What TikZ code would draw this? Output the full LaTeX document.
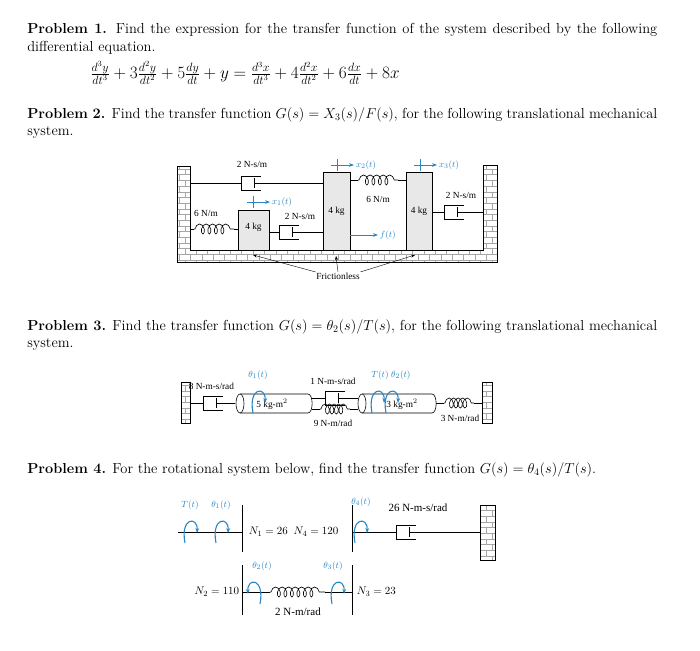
\documentclass[tikz,border=0pt]{standalone}
\usepackage{fontspec}
\newfontfamily\lab{Liberation Serif}
\usetikzlibrary{decorations.pathmorphing,patterns,arrows.meta}
\definecolor{bl}{RGB}{40,135,195}
\begin{document}
\begin{tikzpicture}[x=1pt,y=-1pt,line width=0.6pt,
 txt/.style={anchor=north west,inner sep=0pt,text width=630pt,align=justify,font=\fontsize{14.5}{17.5}\selectfont},
 lb/.style={inner sep=0.5pt,font=\lab\fontsize{9.3}{10}\selectfont},
 lbb/.style={inner sep=0.5pt,font=\lab\fontsize{11}{12}\selectfont},
 bll/.style={lb,text=bl},
 mass/.style={draw,fill=gray!18},
 wall/.style={draw,pattern=bricks,pattern color=gray!70},
 spring/.style={decorate,decoration={coil,aspect=0.6,amplitude=5pt,segment length=#1,pre length=1pt,post length=1pt}},
 spring/.default=6.5pt,
 barr/.style={bl,-{Stealth[length=5pt]},line width=1.1pt},
 damper/.pic={\fill[white] (-11,-7) rectangle (9,7);
   \draw (9,-7)--(-11,-7)--(-11,7)--(9,7); \draw (2,-5)--(2,5); \draw (2,0)--(11,0);},
 rot/.pic={\draw[barr] (-5,16) .. controls (-10,-10) and (8,-11) .. (7,6);}
]
\useasboundingbox (0,0) rectangle (700,650);

\node[txt] (p1) at (27,23) {\textbf{Problem 1.} Find the expression for the transfer function of the system described by the following differential equation.};
\node[anchor=west,inner sep=0pt,font=\fontsize{16.5}{18}\selectfont] (eq) at (90,73) {$\frac{d^3y}{dt^3}+3\frac{d^2y}{dt^2}+5\frac{dy}{dt}+y=\frac{d^3x}{dt^3}+4\frac{d^2x}{dt^2}+6\frac{dx}{dt}+8x$};
\node[txt] (p2) at (27,107) {\textbf{Problem 2.} Find the transfer function $G(s)=X_3(s)/F(s)$, for the following translational mechan\-ical system.};
\node[txt] (p3) at (27,319) {\textbf{Problem 3.} Find the transfer function $G(s)=\theta_2(s)/T(s)$, for the following translational mechanical system.};
\node[txt] (p4) at (27,462) {\textbf{Problem 4.} For the rotational system below, find the transfer function $G(s)=\theta_4(s)/T(s)$.};

% ---------- Diagram 1
\draw[wall] (177,166) -- (190,166) -- (190,250) -- (483,250) -- (483,165) -- (497,165) -- (497,262) -- (177,262) -- cycle;
\draw[mass] (238,210) rectangle (269,250);
\draw[mass] (323,172) rectangle (350,250);
\draw[mass] (406,172) rectangle (432,250);
\node[lb] at (253.5,227) {4 kg};
\node[lb] at (336.5,211) {4 kg};
\node[lb] at (419,211) {4 kg};
\draw (190,183) -- (323,183);
\pic at (252,183) {damper};
\node[lb] at (252,164) {2 N-s/m};
\draw (350,180) -- (358,180);
\draw[spring] (358,180) -- (398,180);
\draw (398,180) -- (406,180);
\node[lb] at (378,199) {6 N/m};
\draw (190,229) -- (194,229);
\draw[spring] (194,229) -- (234,229);
\draw (234,229) -- (238,229);
\node[lb] at (206,213) {6 N/m};
\draw (269,232) -- (323,232);
\pic at (290,232) {damper};
\node[lb] at (300,216) {2 N-s/m};
\draw (432,212) -- (483,212);
\pic at (455,212) {damper};
\node[lb] at (461,195) {2 N-s/m};
\foreach \cx/\cy/\t in {253/202/x_1(t),337/165/x_2(t),420/165/x_3(t)}{
  \draw[bl,line width=0.8pt] (\cx-6,\cy)--(\cx,\cy) (\cx,\cy-6)--(\cx,\cy+6);
  \draw[barr,line width=0.8pt] (\cx,\cy)--(\cx+17,\cy);
  \node[bll,anchor=west] at (\cx+18,\cy) {$\t$};
}
\draw[barr,line width=0.8pt] (350,235)--(378,235);
\node[bll,anchor=west] (ft) at (379,235) {$f(t)$};
\node[lb] (fr) at (338,276) {Frictionless};
\draw[-{Stealth[length=4pt]},line width=0.4pt] (fr.north west) -- (253,255);
\draw[-{Stealth[length=4pt]},line width=0.4pt] (fr.north) -- (336,256);
\draw[-{Stealth[length=4pt]},line width=0.4pt] (fr.north east) -- (415,255);

% ---------- Diagram 2
\draw[wall] (181,382) rectangle (190,423);
\draw[wall] (482,382) rectangle (492,423);
\draw (190,403) -- (235,403);
\pic at (214,403) {damper};
\node[lb,anchor=south west] at (188,390) {8 N-m-s/rad};
\draw[fill=white] (240,394) -- (308,394) .. controls (313.5,394) and (313.5,413) .. (308,413) -- (240,413);
\draw[fill=white] (240,403.5) ellipse (4 and 9.5);
\draw[fill=white] (362,394) -- (432,394) .. controls (437.5,394) and (437.5,413) .. (432,413) -- (362,413);
\draw[fill=white] (362,403.5) ellipse (4 and 9.5);
\node[lb] at (272,404) {5 kg-m$^2$};
\node[lb] at (402,404) {3 kg-m$^2$};
\draw (312,398) -- (358,398);
\pic at (336,398) {damper};
\node[lb] at (333,381) {1 N-m-s/rad};
\draw (312,409) -- (320,409);
\draw[spring=4.5pt] (320,409) -- (350,409);
\draw (350,409) -- (358,409);
\node[lb] at (333,423) {9 N-m/rad};
\draw (436,403) -- (444,403);
\draw[spring=4.5pt] (444,403) -- (474,403);
\draw (474,403) -- (482,403);
\node[lb] at (460,418) {3 N-m/rad};
\pic at (258,397) {rot};
\node[bll] at (258,375) {$\theta_1(t)$};
\pic at (377,397) {rot};
\pic at (391,397) {rot};
\node[bll] at (391,375) {$T(t)\;\theta_2(t)$};

% ---------- Diagram 3
\draw (178,532) -- (242,532);
\draw (242,505) -- (242,552);
\draw (352,505) -- (352,552);
\draw (352,532) -- (480,532);
\pic at (407,532) {damper};
\draw[wall] (480,505) rectangle (495,560);
\node[lbb,anchor=west] at (248,532) {$N_1=26$\; $N_4=120$};
\node[lbb] at (418,508) {26 N-m-s/rad};
\pic at (190,527) {rot};
\pic at (221,527) {rot};
\pic at (360,527) {rot};
\node[bll] at (190,505) {$T(t)$};
\node[bll] at (221,505) {$\theta_1(t)$};
\node[bll] at (361,502) {$\theta_4(t)$};
\draw (242,565) -- (242,615);
\draw (352,565) -- (352,615);
\draw (242,592) -- (270,592);
\draw[spring] (270,592) -- (325,592);
\draw (325,592) -- (352,592);
\pic[xscale=-1] at (255,588) {rot};
\pic at (337,588) {rot};
\node[bll] at (262,566) {$\theta_2(t)$};
\node[bll] at (333,566) {$\theta_3(t)$};
\node[lbb,anchor=east] at (240,592) {$N_2=110$};
\node[lbb,anchor=west] at (356,592) {$N_3=23$};
\node[lbb] at (298,612) {2 N-m/rad};
\end{tikzpicture}
\end{document}
